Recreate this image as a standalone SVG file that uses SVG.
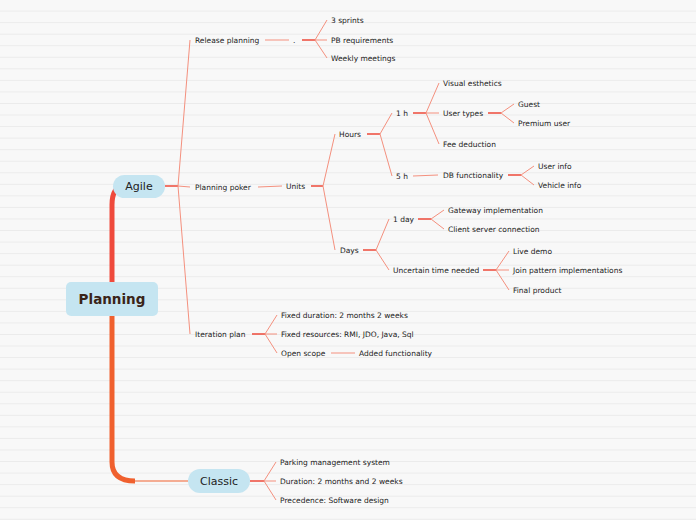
<svg xmlns="http://www.w3.org/2000/svg" width="696" height="520" viewBox="0 0 696 520">
<defs>
<pattern id="bg" width="696" height="11.55" patternUnits="userSpaceOnUse"><rect width="696" height="11.55" fill="#f8f8f8"/><line x1="0" y1="11" x2="696" y2="11" stroke="#ebebeb" stroke-width="1"/></pattern>
</defs>
<style>
text{font-family:"DejaVu Sans",sans-serif;font-size:7.5px;fill:#222}
.l{stroke:#f4907e;stroke-width:1;fill:none}
.s{stroke:#ee4a3a;stroke-width:1.5;fill:none}
.m{font-size:11px}
</style>
<rect width="696" height="520" fill="url(#bg)"/>
<g id="connectors">
<path d="M112,282 V205 Q112,186 125,186" stroke="#ef4a3c" stroke-width="5" fill="none"/>
<path d="M112,316 V462 Q112,481 135,481" stroke="#f0602e" stroke-width="5" fill="none"/>
<path d="M135,481 H188" stroke="#f0602e" stroke-width="1" fill="none"/>
<path class="s" d="M165,186 H178"/>
<path class="l" d="M178,186 L190,40 M178,186 L190,187 M178,186 L190,334"/>
<path class="l" d="M265,40 H289"/><path class="s" d="M302,40 H315"/>
<path class="l" d="M315,40 L327,20 M315,40 H327 M315,40 L327,58"/>
<path class="l" d="M258,187 L282,186"/><path class="s" d="M311,186 H323"/>
<path class="l" d="M323,186 L335,134 M323,186 L335,250"/>
<path class="s" d="M367,134 H380"/><path class="l" d="M380,134 L392,113 M380,134 L392,176"/>
<path class="s" d="M413,113 H426"/><path class="l" d="M426,113 L439,83 M426,113 H439 M426,113 L439,144"/>
<path class="s" d="M488,113 H501"/><path class="l" d="M501,113 L514,104 M501,113 L514,123"/>
<path class="l" d="M413,176 L438,175"/>
<path class="s" d="M508,175 H521"/><path class="l" d="M521,175 L534,166 M521,175 L534,185"/>
<path class="s" d="M363,250 H376"/><path class="l" d="M376,250 L389,219 M376,250 L389,270"/>
<path class="s" d="M418,219 H431"/><path class="l" d="M431,219 L444,210 M431,219 L444,229"/>
<path class="s" d="M483,270 H496"/><path class="l" d="M496,270 L509,251 M496,270 H509 M496,270 L509,290"/>
<path class="s" d="M252,334 H265"/><path class="l" d="M265,334 L277,315 M265,334 H277 M265,334 L277,353"/>
<path class="l" d="M331,353 H355"/>
<path class="s" d="M250,481 H264"/><path class="l" d="M264,481 L276,462 M264,481 H276 M264,481 L276,500"/>
</g>
<g id="planning"><rect x="66" y="282" width="92" height="34" rx="5" fill="#c5e5f1"/><text x="112" y="304" text-anchor="middle" style="font-size:13.5px;font-weight:bold;fill:#3a2418">Planning</text></g>
<g id="agile"><rect x="113" y="175" width="52" height="23" rx="11.5" fill="#c5e5f1"/><text class="m" x="139" y="190" text-anchor="middle">Agile</text></g>
<g id="classic"><rect x="188" y="469" width="62" height="24" rx="12" fill="#c5e5f1"/><text class="m" x="219" y="485" text-anchor="middle">Classic</text></g>
<g id="release"><text x="195" y="42.5">Release planning</text></g>
<g id="dot"><text x="293" y="42.5">.</text></g>
<g id="rp1"><text x="331" y="22.5">3 sprints</text></g>
<g id="rp2"><text x="331" y="42.5">PB requirements</text></g>
<g id="rp3"><text x="331" y="60.5">Weekly meetings</text></g>
<g id="poker"><text x="195" y="189.5">Planning poker</text></g>
<g id="units"><text x="286" y="188.5">Units</text></g>
<g id="hours"><text x="339" y="136.5">Hours</text></g>
<g id="h1"><text x="396" y="115.5">1 h</text></g>
<g id="ve"><text x="443" y="85.5">Visual esthetics</text></g>
<g id="ut"><text x="443" y="115.5">User types</text></g>
<g id="guest"><text x="518" y="106.5">Guest</text></g>
<g id="prem"><text x="518" y="125.5">Premium user</text></g>
<g id="fee"><text x="443" y="146.5">Fee deduction</text></g>
<g id="h5"><text x="396" y="178.5">5 h</text></g>
<g id="db"><text x="443" y="177.5">DB functionality</text></g>
<g id="ui"><text x="538" y="168.5">User info</text></g>
<g id="vi"><text x="538" y="187.5">Vehicle info</text></g>
<g id="days"><text x="340" y="252.5">Days</text></g>
<g id="d1"><text x="393" y="221.5">1 day</text></g>
<g id="gw"><text x="448" y="212.5">Gateway implementation</text></g>
<g id="cs"><text x="448" y="231.5">Client server connection</text></g>
<g id="unc"><text x="393" y="272.5">Uncertain time needed</text></g>
<g id="ld"><text x="513" y="253.5">Live demo</text></g>
<g id="jp"><text x="513" y="272.5">Join pattern implementations</text></g>
<g id="fp"><text x="513" y="292.5">Final product</text></g>
<g id="iter"><text x="195" y="336.5">Iteration plan</text></g>
<g id="fd"><text x="281" y="317.5">Fixed duration: 2 months 2 weeks</text></g>
<g id="fr"><text x="281" y="336.5">Fixed resources: RMI, JDO, Java, Sql</text></g>
<g id="os"><text x="281" y="355.5">Open scope</text></g>
<g id="af"><text x="359" y="355.5">Added functionality</text></g>
<g id="c1"><text x="280" y="464.5">Parking management system</text></g>
<g id="c2"><text x="280" y="483.5">Duration: 2 months and 2 weeks</text></g>
<g id="c3"><text x="280" y="502.5">Precedence: Software design</text></g>
</svg>
